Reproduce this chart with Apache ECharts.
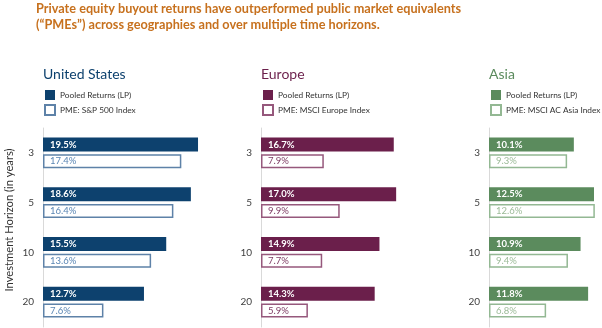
<!DOCTYPE html>
<html><head><meta charset="utf-8">
<script src="https://cdn.jsdelivr.net/npm/echarts@6/dist/echarts.min.js"></script>
<style>html,body{margin:0;padding:0;background:#fff}#c{width:602px;height:328px}</style>
</head><body><div id="c"></div>
<script>
const horizons = ['3', '5', '10', '20'];
const regions = ['United States', 'Europe', 'Asia'];
const lpName = 'Pooled Returns (LP)';
const pmeNames = ['PME: S&P 500 Index', 'PME: MSCI Europe Index', 'PME: MSCI AC Asia Index'];
const yAxisTitle = 'Investment Horizon (in years)';
const usLP = [19.5, 18.6, 15.5, 12.7];
const usPME = [17.4, 16.4, 13.6, 7.6];
const euLP = [16.7, 17.0, 14.9, 14.3];
const euPME = [7.9, 9.9, 7.7, 5.9];
const asiaLP = [10.1, 12.5, 10.9, 11.8];
const asiaPME = [9.3, 12.6, 9.4, 6.8];

const FONT = 'Lato';
const lpData = [usLP, euLP, asiaLP];
const pmeData = [usPME, euPME, asiaPME];
const mainColors = ['#0D416E', '#6B1F4B', '#5B8B5D'];
const pmeBorder = ['#5E82A8', '#96587C', '#93B893'];
const pmeText = ['#5A86B4', '#7E3B64', '#9CBB98'];
const gridLeft = [43, 261, 489];
const gridWidth = [159, 159, 109.2];
const xMax = [20, 20, 13];

const grids = [], xAxes = [], yAxes = [], series = [], legends = [];
const titles = [{
  text: 'Private equity buyout returns have outperformed public market equivalents\n(\u201cPMEs\u201d) across geographies and over multiple time horizons.',
  left: 36, top: 1, padding: 0,
  textStyle: { fontFamily: FONT, fontSize: 12.7, fontWeight: 'bold', color: '#C7711E', lineHeight: 16 }
}];
const keyMap = {};
for (let i = 0; i < 3; i++) {
  grids.push({ left: gridLeft[i], top: 128, width: gridWidth[i], height: 199 });
  xAxes.push({ gridIndex: i, type: 'value', min: 0, max: xMax[i], show: false });
  yAxes.push({
    gridIndex: i, type: 'category', inverse: true, data: horizons,
    axisLine: { lineStyle: { color: '#D9D9D9', width: 1 } },
    axisTick: { show: false },
    axisLabel: { margin: 9, fontFamily: FONT, fontSize: 10, color: '#404040' }
  });
  const lpKey = 'lp' + i, pmeKey = 'pme' + i;
  keyMap[lpKey] = lpName; keyMap[pmeKey] = pmeNames[i];
  series.push({
    name: lpKey, type: 'bar', xAxisIndex: i, yAxisIndex: i, data: lpData[i],
    barWidth: 14, barGap: '20%',
    itemStyle: { color: mainColors[i] },
    label: { show: true, position: 'insideLeft', distance: 7, formatter: p => p.value.toFixed(1) + '%',
      fontFamily: FONT, fontSize: 9.5, fontWeight: 'bold', color: '#ffffff' }
  });
  series.push({
    name: pmeKey, type: 'bar', xAxisIndex: i, yAxisIndex: i, data: pmeData[i],
    barWidth: 14, barGap: '20%',
    itemStyle: { color: '#ffffff', borderColor: pmeBorder[i], borderWidth: 1.5 },
    label: { show: true, position: 'insideLeft', distance: 7, formatter: p => p.value.toFixed(1) + '%',
      fontFamily: FONT, fontSize: 9.5, color: pmeText[i] }
  });
  titles.push({
    text: regions[i], left: gridLeft[i], top: 67, padding: 0,
    textStyle: { fontFamily: FONT, fontSize: 14, fontWeight: 'normal', color: mainColors[i] }
  });
  legends.push({
    data: [lpKey, pmeKey], orient: 'vertical', left: gridLeft[i] + 1, top: 90, padding: 0,
    itemWidth: 10, itemHeight: 10, itemGap: 4, icon: 'rect',
    formatter: n => keyMap[n],
    textStyle: { fontFamily: FONT, fontSize: 8.3, color: '#333333' }
  });
}
const chart = echarts.init(document.getElementById('c'), null, { renderer: 'canvas' });
chart.setOption({
  animation: false,
  title: titles, legend: legends, grid: grids, xAxis: xAxes, yAxis: yAxes, series: series,
  graphic: [{
    type: 'text', x: 9, y: 220, rotation: Math.PI / 2,
    style: { text: yAxisTitle, fontFamily: FONT, fontSize: 11.2, fill: '#333333', align: 'center', verticalAlign: 'middle' }
  }]
});
</script></body></html>
